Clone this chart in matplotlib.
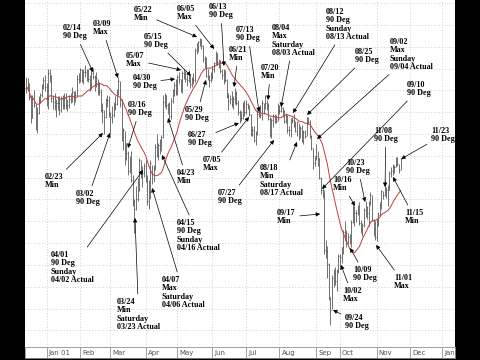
import numpy as np
import pandas as pd
import matplotlib
matplotlib.use("Agg")
import matplotlib.pyplot as plt

# trading-day index of first bar (12 Dec 2000), 0 = 2 Jan 2001
first_day = -13

highs = [
    10900, 10890, 10830, 10700, 10700, 10750, 10590, 10560, 10680, 10720, 10820, 10900, 10920,  # dec
    10830, 10990, 10990, 10930, 10700, 10720, 10650, 10680, 10680, 10690, 10700, 10720, 10720,
    10650, 10700, 10720, 10790, 10740, 10740, 10920, 10950,  # jan
    11010, 11000, 10990, 11040, 11000, 10990, 10920, 10980, 11010, 10930, 10960, 10880, 10850,
    10760, 10600, 10530, 10660, 10700, 10690,  # feb
    10500, 10570, 10620, 10680, 10760, 10900, 10860, 10650, 10320, 10280, 10150, 10050, 10000,
    10060, 9780, 9500, 9650, 9750, 9980, 9950, 9880, 9920,  # mar
    9950, 9780, 9720, 9950, 9900, 9900, 10140, 10250, 10150, 10190, 10240, 10700, 10720,
    10700, 10600, 10620, 10660, 10760, 10840, 10880,  # apr
    10920, 10960, 10880, 10970, 11000, 10970, 10920, 10980, 10930, 10900, 10950, 11230, 11290,
    11310, 11350, 11340, 11270, 11140, 11130, 10990, 10920, 10960,  # may
    11030, 11080, 11200, 11180, 11110, 11100, 11000, 10990, 10980, 10880, 10720, 10700, 10740,
    10680, 10780, 10740, 10640, 10530, 10510, 10620, 10640,  # jun
    10640, 10610, 10580, 10480, 10340, 10340, 10280, 10520, 10570, 10580, 10640, 10610, 10700,
    10640, 10600, 10440, 10430, 10480, 10480, 10470, 10600,  # jul
    10580, 10620, 10560, 10520, 10490, 10470, 10340, 10430, 10450, 10480, 10400, 10400, 10380,
    10340, 10350, 10300, 10300, 10450, 10450, 10410, 10240, 10090, 10000,  # aug
    10130, 10050, 9970, 9760, 9660, 9610, 9030, 8970, 8770, 8380, 8630, 8700, 8730, 8700, 8870,  # sep
    8880, 8960, 9150, 9250, 9150, 9120, 9100, 9260, 9450, 9420, 9380, 9440, 9470, 9260, 9230,
    9400, 9480, 9420, 9480, 9590, 9550, 9270, 9250,  # oct
    9290, 9360, 9470, 9610, 9600, 9720, 9640, 9660, 9830, 9870, 9910, 9900, 9990, 9990, 9910, 9970,  # nov
]
lows = [
    10720, 10740, 10640, 10380, 10430, 10560, 10290, 10260, 10480, 10600, 10670, 10770, 10740,
    10570, 10540, 10850, 10620, 10540, 10530, 10440, 10520, 10470, 10500, 10540, 10540, 10540,
    10510, 10550, 10600, 10620, 10580, 10620, 10680, 10830,
    10850, 10840, 10820, 10900, 10860, 10850, 10740, 10760, 10880, 10740, 10790, 10700, 10700,
    10500, 10380, 10250, 10430, 10560, 10440,
    10250, 10380, 10450, 10530, 10580, 10700, 10560, 10170, 10070, 9900, 9950, 9780, 9800,
    9700, 9430, 9120, 9380, 9480, 9600, 9740, 9640, 9760,
    9700, 9440, 9390, 9520, 9680, 9700, 9840, 9990, 9950, 10020, 10050, 10200, 10560,
    10540, 10480, 10420, 10420, 10600, 10680, 10700,
    10700, 10830, 10730, 10720, 10880, 10840, 10800, 10840, 10780, 10790, 10820, 10840, 11170,
    11190, 11260, 11220, 11080, 11010, 10900, 10870, 10790, 10840,
    10880, 10960, 11040, 11040, 11010, 10950, 10880, 10820, 10850, 10660, 10530, 10590, 10560,
    10540, 10590, 10580, 10470, 10380, 10400, 10420, 10460,
    10480, 10540, 10460, 10230, 10230, 10160, 10120, 10240, 10450, 10430, 10410, 10480, 10540,
    10520, 10410, 10220, 10200, 10330, 10380, 10380, 10400,
    10480, 10500, 10440, 10380, 10370, 10260, 10230, 10220, 10370, 10330, 10270, 10230, 10180,
    10200, 10160, 10140, 10200, 10230, 10360, 10200, 10070, 9850, 9880,
    9950, 9880, 9730, 9560, 9520, 8880, 8830, 8600, 8350, 8060, 8240, 8500, 8520, 8450, 8660,
    8700, 8770, 8880, 9020, 8950, 8990, 8990, 8960, 9230, 9190, 9240, 9320, 9210, 9110, 9080,
    9180, 9300, 9280, 9200, 9440, 9250, 9080, 9040,
    9020, 9200, 9320, 9390, 9500, 9540, 9520, 9420, 9610, 9760, 9780, 9800, 9870, 9880, 9800, 9840,
]
closes = [
    10768, 10795, 10675, 10434, 10645, 10584, 10318, 10487, 10635, 10692, 10803, 10868, 10787,
    10646, 10946, 10912, 10662, 10621, 10572, 10604, 10609, 10525, 10652, 10584, 10678, 10587,
    10578, 10649, 10646, 10729, 10659, 10702, 10881, 10887,
    10984, 10864, 10965, 10957, 10947, 10880, 10781, 10946, 10903, 10795, 10891, 10799, 10730,
    10526, 10526, 10441, 10642, 10636, 10495,
    10450, 10466, 10562, 10591, 10729, 10858, 10644, 10208, 10290, 9973, 10031, 9823, 9959,
    9721, 9487, 9390, 9504, 9687, 9947, 9786, 9799, 9879,
    9778, 9486, 9515, 9918, 9792, 9846, 10102, 10013, 10127, 10158, 10216, 10615, 10694,
    10579, 10532, 10454, 10625, 10692, 10810, 10735,
    10898, 10877, 10797, 10951, 10935, 10884, 10867, 10911, 10821, 10878, 10873, 11215, 11248,
    11302, 11337, 11257, 11105, 11122, 10916, 10912, 10872, 10911,
    10990, 11061, 11175, 11070, 11090, 10977, 10922, 10948, 10872, 10690, 10623, 10645, 10596,
    10645, 10715, 10605, 10504, 10472, 10435, 10566, 10502,
    10593, 10571, 10479, 10252, 10300, 10176, 10242, 10479, 10539, 10472, 10606, 10561, 10610,
    10577, 10425, 10241, 10405, 10455, 10416, 10401, 10523,
    10510, 10551, 10512, 10401, 10458, 10292, 10298, 10416, 10415, 10355, 10286, 10392, 10240,
    10320, 10174, 10276, 10229, 10423, 10382, 10222, 10091, 9919, 9950,
    9998, 9973, 9751, 9606, 9606, 8921, 8904, 8759, 8377, 8236, 8604, 8660, 8568, 8682, 8848,
    8837, 8950, 9123, 9061, 9120, 9068, 9052, 9240, 9410, 9345, 9349, 9387, 9232, 9163, 9205,
    9377, 9341, 9345, 9462, 9545, 9269, 9121, 9075,
    9263, 9323, 9441, 9591, 9554, 9588, 9609, 9606, 9802, 9823, 9872, 9866, 9976, 9901, 9835, 9960,
]

# month boundaries in trading days + labels of the date strip
month_starts = [0, 21, 40, 62, 82, 104, 125, 146, 169, 184, 207, 228, 248]
month_labels = ["Jan 01", "Feb", "Mar", "Apr", "May", "Jun", "Jul", "Aug", "Sep", "Oct", "Nov", "Dec", "Jan"]

# (text, bar day, price pointed at, text left px, text top px)
notes = [
    ("02/14\n90 Deg", 29.0, 10960, 63, 24),
    ("03/09\nMax", 44.7, 10892, 93, 20),
    ("05/22\nMin", 94.3, 11361, 134, 6),
    ("05/15\n90 Deg", 90.5, 10915, 144, 33),
    ("05/07\nMax", 84.3, 10983, 126, 52),
    ("04/30\n90 Deg", 80.5, 10880, 133, 74),
    ("06/05\nMax", 105.0, 11224, 177, 5),
    ("06/13\n90 Deg", 111.2, 11029, 209, 3),
    ("06/21\nMin", 117.5, 10788, 229, 46),
    ("07/13\n90 Deg", 133.2, 10502, 236, 26),
    ("07/20\nMin", 138.8, 10640, 261, 64),
    ("08/04\nMax\nSaturday\n08/03 Actual", 147.0, 10559, 272, 24),
    ("08/12\n90 Deg\nSunday\n08/13 Actual", 154.5, 10490, 326, 8),
    ("08/25\n90 Deg", 163.3, 10468, 355, 48),
    ("09/02\nMax\nSunday\n09/04 Actual", 169.6, 10193, 390, 38),
    ("09/10\n90 Deg", 172.7, 9620, 407, 81),
    ("11/08\n90 Deg", 212.2, 9642, 374, 127),
    ("11/23\n90 Deg", 222.3, 9963, 431, 127),
    ("10/23\n90 Deg", 199.7, 9471, 346, 159),
    ("10/16\nMin", 193.4, 9425, 333, 176),
    ("10/09\n90 Deg", 190.3, 8943, 353, 266),
    ("10/02\nMax", 184.6, 8749, 343, 287),
    ("09/24\n90 Deg", 179.6, 8233, 345, 314),
    ("11/01\nMax", 206.6, 8978, 394, 274),
    ("11/15\nMin", 217.2, 9757, 405, 209),
    ("09/17\nMin", 171.5, 9333, 277, 209),
    ("08/18\nMin\nSaturday\n08/17 Actual", 157.0, 10158, 260, 164),
    ("07/27\n90 Deg", 142.6, 10181, 218, 189),
    ("07/05\nMax", 126.9, 10445, 203, 156),
    ("06/27\n90 Deg", 120.6, 10376, 188, 131),
    ("05/29\n90 Deg", 99.9, 10869, 185, 106),
    ("04/23\nMin", 76.1, 10433, 177, 169),
    ("03/16\n90 Deg", 51.0, 10089, 128, 101),
    ("02/23\nMin", 35.3, 10261, 45, 173),
    ("03/02\n90 Deg", 39.7, 10261, 76, 190),
    ("04/01\n90 Deg\nSunday\n04/02 Actual", 60.4, 9837, 51, 251),
    ("03/24\nMin\nSaturday\n03/23 Actual", 55.4, 9287, 117, 298),
    ("04/15\n90 Deg\nSunday\n04/16 Actual", 72.3, 10009, 177, 219),
    ("04/07\nMax\nSaturday\n04/06 Actual", 66.1, 9631, 162, 276),
]

days = np.arange(first_day, first_day + len(closes))
ma = pd.Series(closes).rolling(20, min_periods=1).mean()

fig = plt.figure(figsize=(4.8, 3.6), dpi=100, facecolor="black")
ax = fig.add_axes([25 / 480, 13 / 360, 430 / 480, 347 / 360])
ax.set_facecolor("white")
ax.set_xlim(-13.6, 256.1)
ax.set_ylim(7809, 11785)
ax.set_yticks(np.arange(8000, 11751, 250))
ax.set_xticks(month_starts)
ax.grid(True, ls=(0, (1, 3)), color="#a8a8a8", lw=0.5)
ax.set_axisbelow(True)
ax.tick_params(length=0, labelbottom=False, labelleft=False)
for s in ax.spines.values():
    s.set_visible(False)

# hlc bars
ax.vlines(days, lows, highs, color="#4a4a4a", lw=0.55)
ax.hlines(closes, days, days + 0.55, color="#4a4a4a", lw=0.55)
ax.plot(days, ma, color="#c23b3b", lw=0.7)

for txt, d, p, tx, ty in notes:
    ax.annotate(txt, xy=(d, p), xycoords="data", xytext=(tx, 360 - ty),
                textcoords="figure pixels", ha="left", va="top",
                fontsize=5.9, fontweight="bold", family="Liberation Serif",
                linespacing=1.05,
                arrowprops=dict(arrowstyle="-|>", color="black", lw=0.5,
                                mutation_scale=6, shrinkA=1, shrinkB=0))

# date strip under the chart
sx = fig.add_axes([25 / 480, 2 / 360, 430 / 480, 11 / 360])
sx.set_facecolor("white")
sx.set_xlim(-13.6, 256.1)
sx.set_ylim(0, 1)
sx.set_xticks([])
sx.set_yticks([])
for s in sx.spines.values():
    s.set_color("#909090")
    s.set_linewidth(0.6)
sx.vlines(month_starts, 0, 1, color="#909090", lw=0.6)
for m, lab in zip(month_starts, month_labels):
    sx.text(m + 1.3, 0.45, lab, fontsize=5.0, color="#505050", va="center", ha="left",
            family="DejaVu Sans")

fig.savefig("out.png", dpi=100, facecolor=fig.get_facecolor())
